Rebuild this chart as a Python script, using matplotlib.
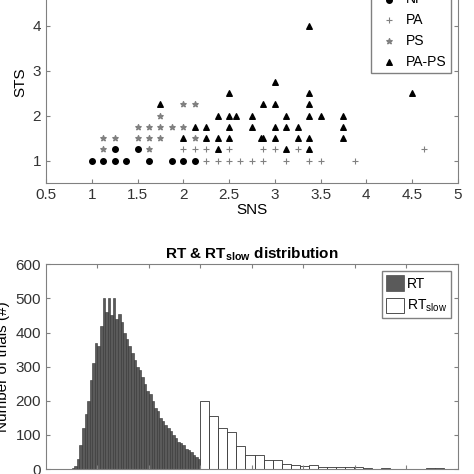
import matplotlib
matplotlib.use("Agg")
import matplotlib.pyplot as plt
import numpy as np

plt.rcParams['font.family'] = ['Liberation Sans', 'DejaVu Sans']

# Scatter data (SNS, STS)
none_x = [1, 1.125, 1.25, 1.375, 1.625, 1.875, 2, 2.125, 1.25, 1.5]
none_y = [1, 1, 1, 1, 1, 1, 1, 1, 1.25, 1.25]
pa_x = [2.25, 2.375, 2.5, 2.625, 2.75, 2.875, 3.125, 3.375, 3.5, 3.875,
        2.0, 2.125, 2.25, 2.5, 2.875, 3.0, 3.25, 4.625]
pa_y = [1, 1, 1, 1, 1, 1, 1, 1, 1, 1,
        1.25, 1.25, 1.25, 1.25, 1.25, 1.25, 1.25, 1.25]
ps_x = [1.125, 1.25, 1.125, 1.5, 1.5, 1.625, 1.625, 1.625, 1.75, 1.75, 1.75,
        1.875, 2, 2, 2.125, 2.125]
ps_y = [1.5, 1.5, 1.25, 1.75, 1.5, 1.75, 1.5, 1.25, 1.75, 1.5, 2,
        1.75, 1.75, 2.25, 2.25, 1.5]
paps_x = [1.75, 2, 2.125, 2.25, 2.25, 2.375, 2.375, 2.375, 2.5, 2.5, 2.5, 2.5,
          2.58, 2.75, 2.75, 2.875, 2.875, 2.85, 3, 3, 3, 3, 3.125, 3.125, 3.125,
          3.25, 3.25, 3.375, 3.375, 3.375, 3.375, 3.375, 3.375, 3.5, 3.75, 3.75,
          3.75, 4.5]
paps_y = [2.25, 1.5, 1.75, 1.75, 1.5, 2, 1.5, 1.25, 2.5, 2, 1.75, 1.5,
          2, 2, 1.75, 2.25, 1.5, 1.5, 2.75, 2.25, 1.75, 1.5, 2, 1.75, 1.25,
          1.75, 1.5, 4, 2.5, 2.25, 2, 1.5, 1.25, 2, 2, 1.75,
          1.5, 2.5]

# Histogram counts
rt_counts = [3, 10, 30, 70, 120, 160, 200, 260, 310, 370, 360, 420,
             500, 460, 500, 450, 500, 440, 455, 430,
             400, 380, 360, 340, 320, 300, 290, 270, 250, 230, 220, 200, 180,
             170, 150, 140, 130, 120, 110, 100, 90, 80, 75, 70, 60, 55, 50,
             40, 35, 30]
slow_counts = [200, 155, 120, 108, 68, 42, 40, 25, 25, 15, 12, 10, 13, 7,
               5, 6, 6, 5, 2, 1, 3, 1, 1, 1, 1, 2, 4, 1]

gray = '#808080'
fig = plt.figure(figsize=(4.74, 4.74), dpi=100)

ax1 = fig.add_axes([0.097, 0.614, 0.869, 0.426])
ax1.scatter(none_x, none_y, marker='o', s=16, color='black', label='NP')
ax1.scatter(pa_x, pa_y, marker='+', s=18, color=gray, linewidths=0.8, label='PA')
ax1.scatter(ps_x, ps_y, marker='*', s=16, color=gray, label='PS')
ax1.scatter(paps_x, paps_y, marker='^', s=16, color='black', label='PA-PS')
ax1.set_xlim(0.5, 5)
ax1.set_ylim(0.5, 5)
ax1.set_xticks(np.arange(0.5, 5.01, 0.5))
ax1.set_xticklabels(['0.5', '1', '1.5', '2', '2.5', '3', '3.5', '4', '4.5', '5'])
ax1.set_yticks([1, 2, 3, 4])
ax1.set_xlabel('SNS', fontsize=11, labelpad=1)
ax1.set_ylabel('STS', fontsize=11)
ax1.legend(loc='upper right', fontsize=10, handletextpad=0.2, borderpad=0.3,
           fancybox=False, edgecolor=gray, framealpha=1, borderaxespad=0.5)

ax2 = fig.add_axes([0.097, 0.0105, 0.869, 0.432])
rt_w = 2.5 / len(rt_counts)
rt_edges = 0.5 + rt_w * np.arange(len(rt_counts))
ax2.bar(rt_edges, rt_counts, width=rt_w, align='edge', color='#5a5a5a',
        edgecolor='#333333', linewidth=0.4, label='RT')
slow_w = 0.175
slow_edges = 3.0 + slow_w * np.arange(len(slow_counts))
ax2.bar(slow_edges, slow_counts, width=slow_w, align='edge', color='white',
        edgecolor='#333333', linewidth=0.6, label='RT$_{\\mathregular{slow}}$')
ax2.set_xlim(0, 8)
ax2.set_ylim(0, 600)
ax2.set_xticks(range(1, 8))
ax2.set_xticklabels([])
ax2.set_ylabel('Number of trials (#)', fontsize=11)
ax2.set_title('RT & RT$_{\\mathregular{slow}}$ distribution', fontsize=11,
              fontweight='bold', pad=4)
ax2.legend(loc='upper right', fontsize=10, handletextpad=0.2, borderpad=0.3,
           fancybox=False, edgecolor=gray, framealpha=1, handlelength=1.3,
           handleheight=1.3)

for ax in (ax1, ax2):
    for s in ax.spines.values():
        s.set_color(gray)
    ax.tick_params(direction='in', top=True, right=True, colors='#333333',
                   labelsize=11, length=3)
    ax.tick_params(color=gray)

fig.savefig('out.png', dpi=100)
